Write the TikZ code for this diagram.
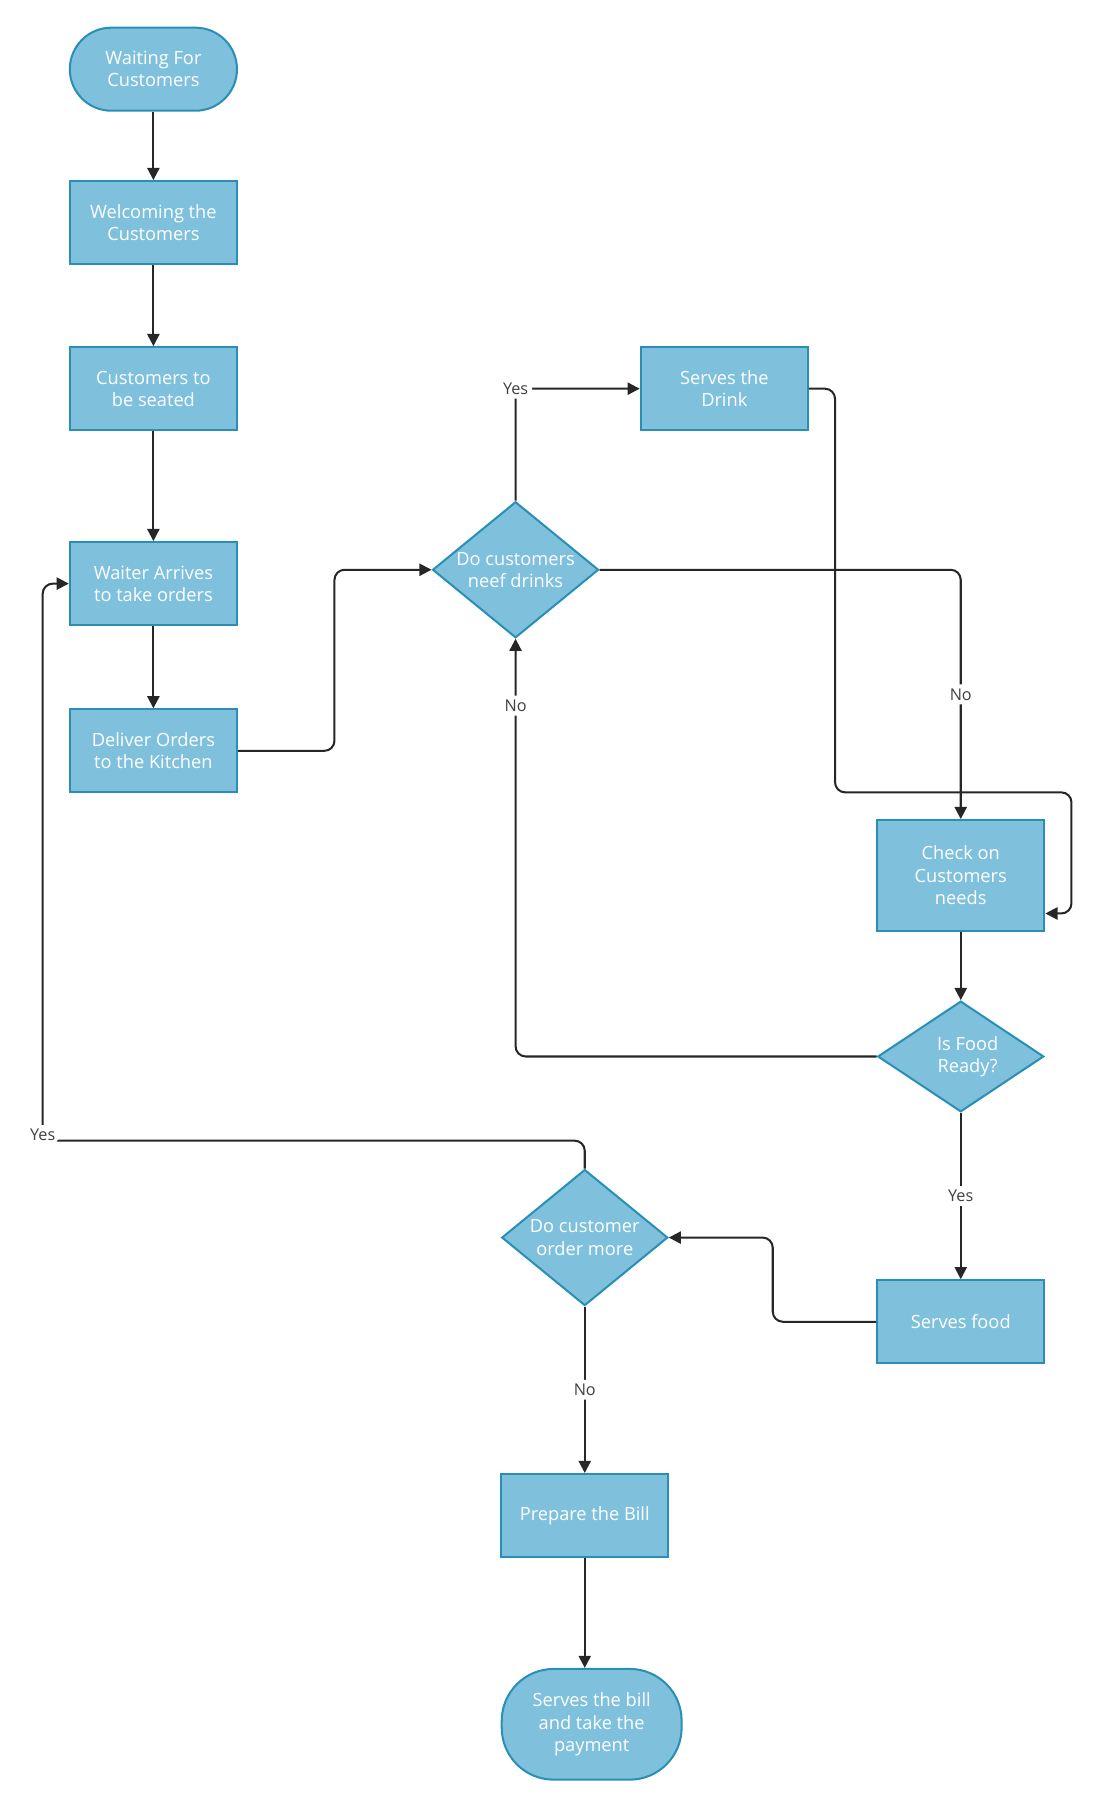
\documentclass[tikz,border=0pt]{standalone}
\usepackage{fontspec}
\setmainfont{Open Sans}
\usetikzlibrary{shapes.geometric,arrows.meta}
\definecolor{boxfill}{HTML}{7FC1DC}
\definecolor{boxline}{HTML}{2A8FB5}
\begin{document}
\begin{tikzpicture}[
    x=0.02cm, y=-0.02cm,
    every node/.style={font=\fontsize{9}{11}\selectfont},
    box/.style={rectangle,draw=boxline,line width=1pt,fill=boxfill,text=white,
        minimum width=2.9cm,minimum height=1.44cm,align=center,inner sep=2pt},
    term/.style={box,rounded corners=0.72cm},
    dia/.style={diamond,draw=boxline,line width=1pt,fill=boxfill,inner sep=0pt,
        minimum width=2.88cm,minimum height=2.36cm},
    txt/.style={text=white,align=center},
    lbl/.style={fill=white,text=black!75,inner sep=2pt,font=\fontsize{8}{10}\selectfont},
    flow/.style={-{Triangle[length=6pt,width=6pt]},line width=1pt,black!85,rounded corners=5pt}
]
\useasboundingbox (0,0) rectangle (960,1578);

% Nodes
\node[term] (start)   at (133,60)   {Waiting For\\Customers};
\node[box]  (welcome) at (133,193)  {Welcoming the\\Customers};
\node[box]  (seated)  at (133,337)  {Customers to\\be seated};
\node[box]  (waiter)  at (133,506)  {Waiter Arrives\\to take orders};
\node[box]  (deliver) at (133,651)  {Deliver Orders\\to the Kitchen};
\node[dia]  (drinks)  at (447,494)  {};
\node[txt]  at (drinks) {Do customers\\neef drinks};
\node[box]  (drink)   at (628,337)  {Serves the\\Drink};
\node[box,minimum height=1.92cm] (check) at (833,759) {Check on\\Customers\\needs};
\node[dia,minimum height=1.92cm] (food) at (833,916) {};
\node[txt]  at ([xshift=0.12cm]food) {Is Food\\Ready?};
\node[box]  (servefood) at (833,1146) {Serves food};
\node[dia]  (more)    at (507,1073) {};
\node[txt]  at (more) {Do customer\\order more};
\node[box]  (bill)    at (507,1314) {Prepare the Bill};
\node[term,minimum width=3.12cm,minimum height=1.92cm,rounded corners=0.9cm] (pay) at (513,1495) {Serves the bill\\and take the\\payment};

% Connectors
\draw[flow] (start) -- (welcome);
\draw[flow] (welcome) -- (seated);
\draw[flow] (seated) -- (waiter);
\draw[flow] (waiter) -- (deliver);
\draw[flow] (deliver.east) -| (290,494) -- (drinks.west);
\draw[flow] (drinks.north) |- node[lbl,pos=0.5] {Yes} (drink.west);
\draw[flow] (drink.east) -| (724,687) -| (929,792) -- (check.east |- 0,792);
\draw[flow] (drinks.east) -| node[lbl,pos=0.75] {No} (check.north);
\draw[flow] (check) -- (food);
\draw[flow] (food.west) -| node[lbl,pos=0.92] {No} (drinks.south);
\draw[flow] (food.south) -- node[lbl,pos=0.5] {Yes} (servefood.north);
\draw[flow] (servefood.west) -| (670,1073) -- (more.east);
\draw[flow] (more.north) |- (37,989) -- node[lbl,pos=0.01] {Yes} (37,506) -- (waiter.west);
\draw[flow] (more.south) -- node[lbl,pos=0.5] {No} (bill.north);
\draw[flow] (bill.south) -- (pay.north -| bill.south);
\end{tikzpicture}
\end{document}
